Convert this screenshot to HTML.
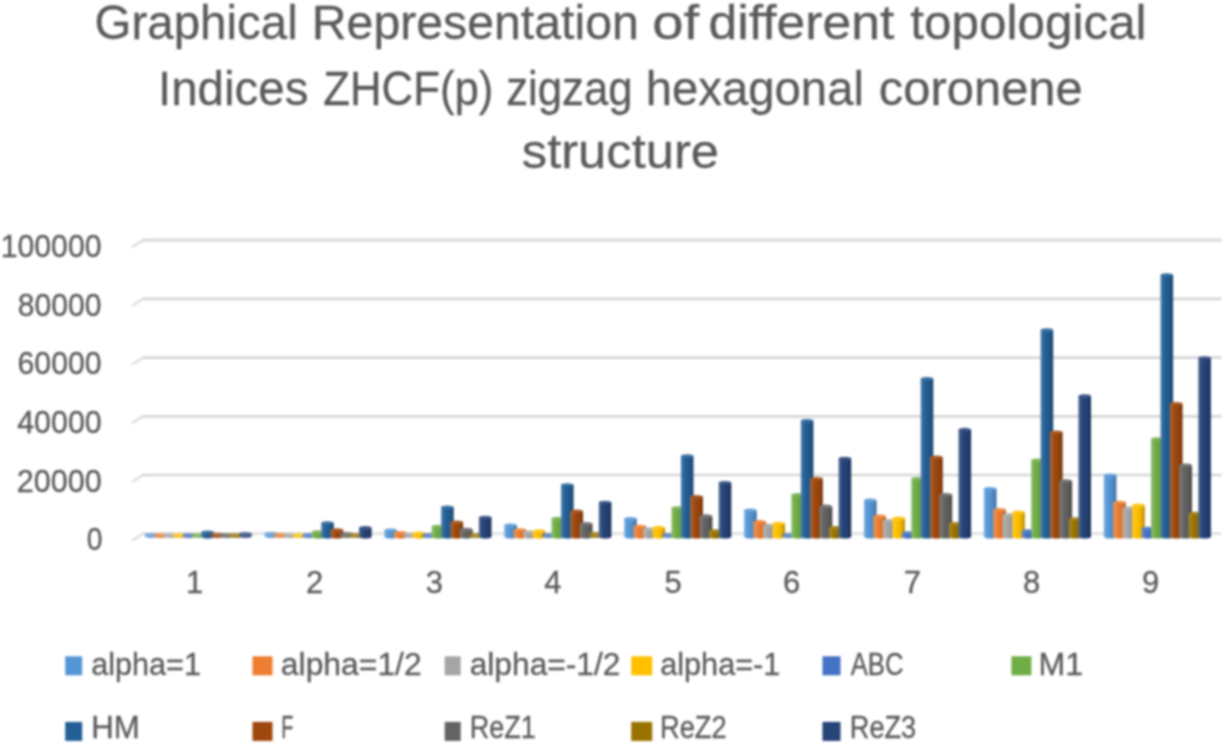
<!DOCTYPE html>
<html lang="en"><head><meta charset="utf-8"><title>Graphical Representation of different topological Indices</title>
<style>html,body{margin:0;padding:0;background:#fff;}body{width:1225px;height:746px;overflow:hidden;}svg{display:block;}text{font-family:'Liberation Sans', 'DejaVu Sans', sans-serif;fill:#5a5a5a;stroke:#5a5a5a;stroke-width:0.3px;}</style>
</head><body>
<svg width="1225" height="746" viewBox="0 0 1225 746">
<defs>
<filter id="soft" filterUnits="userSpaceOnUse" x="0" y="0" width="1225" height="746" color-interpolation-filters="sRGB"><feGaussianBlur stdDeviation="1"/></filter>
<linearGradient id="g0" x1="0" x2="1" y1="0" y2="0"><stop offset="0" stop-color="#7aaedf"/><stop offset="0.14" stop-color="#66a1da"/><stop offset="0.34" stop-color="#5597D6"/><stop offset="0.7" stop-color="#4f8cc7"/><stop offset="1" stop-color="#3b6a96"/></linearGradient>
<linearGradient id="g1" x1="0" x2="1" y1="0" y2="0"><stop offset="0" stop-color="#f19a5e"/><stop offset="0.14" stop-color="#ef8a46"/><stop offset="0.34" stop-color="#ED7D31"/><stop offset="0.7" stop-color="#dc742e"/><stop offset="1" stop-color="#a65822"/></linearGradient>
<linearGradient id="g2" x1="0" x2="1" y1="0" y2="0"><stop offset="0" stop-color="#b9b9b9"/><stop offset="0.14" stop-color="#aeaeae"/><stop offset="0.34" stop-color="#A5A5A5"/><stop offset="0.7" stop-color="#999999"/><stop offset="1" stop-color="#737373"/></linearGradient>
<linearGradient id="g3" x1="0" x2="1" y1="0" y2="0"><stop offset="0" stop-color="#ffce38"/><stop offset="0.14" stop-color="#ffc61a"/><stop offset="0.34" stop-color="#FFC000"/><stop offset="0.7" stop-color="#edb300"/><stop offset="1" stop-color="#b28600"/></linearGradient>
<linearGradient id="g4" x1="0" x2="1" y1="0" y2="0"><stop offset="0" stop-color="#6d91d1"/><stop offset="0.14" stop-color="#5780ca"/><stop offset="0.34" stop-color="#4472C4"/><stop offset="0.7" stop-color="#3f6ab6"/><stop offset="1" stop-color="#305089"/></linearGradient>
<linearGradient id="g5" x1="0" x2="1" y1="0" y2="0"><stop offset="0" stop-color="#8fbf6f"/><stop offset="0.14" stop-color="#7eb559"/><stop offset="0.34" stop-color="#70AD47"/><stop offset="0.7" stop-color="#68a142"/><stop offset="1" stop-color="#4e7932"/></linearGradient>
<linearGradient id="g6" x1="0" x2="1" y1="0" y2="0"><stop offset="0" stop-color="#5382ad"/><stop offset="0.14" stop-color="#396fa0"/><stop offset="0.34" stop-color="#235F96"/><stop offset="0.7" stop-color="#21588c"/><stop offset="1" stop-color="#184269"/></linearGradient>
<linearGradient id="g7" x1="0" x2="1" y1="0" y2="0"><stop offset="0" stop-color="#b37043"/><stop offset="0.14" stop-color="#a85a26"/><stop offset="0.34" stop-color="#9E480E"/><stop offset="0.7" stop-color="#93430d"/><stop offset="1" stop-color="#6f320a"/></linearGradient>
<linearGradient id="g8" x1="0" x2="1" y1="0" y2="0"><stop offset="0" stop-color="#858585"/><stop offset="0.14" stop-color="#737373"/><stop offset="0.34" stop-color="#636363"/><stop offset="0.7" stop-color="#5c5c5c"/><stop offset="1" stop-color="#454545"/></linearGradient>
<linearGradient id="g9" x1="0" x2="1" y1="0" y2="0"><stop offset="0" stop-color="#af9238"/><stop offset="0.14" stop-color="#a3811a"/><stop offset="0.34" stop-color="#997300"/><stop offset="0.7" stop-color="#8e6b00"/><stop offset="1" stop-color="#6b5000"/></linearGradient>
<linearGradient id="g10" x1="0" x2="1" y1="0" y2="0"><stop offset="0" stop-color="#566d96"/><stop offset="0.14" stop-color="#3c5786"/><stop offset="0.34" stop-color="#264478"/><stop offset="0.7" stop-color="#233f70"/><stop offset="1" stop-color="#1b3054"/></linearGradient>
</defs>
<rect width="1225" height="746" fill="#fff"/>
<g filter="url(#soft)">
<text x="94.51" y="38.5" font-size="48" textLength="203.27" lengthAdjust="spacingAndGlyphs" fill="#606060" stroke="none">Graphical</text>
<text x="311.74" y="38.5" font-size="48" textLength="327.09" lengthAdjust="spacingAndGlyphs" fill="#606060" stroke="none">Representation</text>
<text x="652.34" y="38.5" font-size="48" textLength="46.88" lengthAdjust="spacingAndGlyphs" fill="#606060" stroke="none">of</text>
<text x="708.53" y="38.5" font-size="48" textLength="185.95" lengthAdjust="spacingAndGlyphs" fill="#606060" stroke="none">different</text>
<text x="910.35" y="38.5" font-size="48" textLength="236.25" lengthAdjust="spacingAndGlyphs" fill="#606060" stroke="none">topological</text>
<text x="158.02" y="104.5" font-size="48" textLength="150.40" lengthAdjust="spacingAndGlyphs" fill="#606060" stroke="none">Indices</text>
<text x="323.31" y="104.5" font-size="48" textLength="170.10" lengthAdjust="spacingAndGlyphs" fill="#606060" stroke="none">ZHCF(p)</text>
<text x="506.13" y="104.5" font-size="48" textLength="126.49" lengthAdjust="spacingAndGlyphs" fill="#606060" stroke="none">zigzag</text>
<text x="645.72" y="104.5" font-size="48" textLength="218.24" lengthAdjust="spacingAndGlyphs" fill="#606060" stroke="none">hexagonal</text>
<text x="878.82" y="104.5" font-size="48" textLength="203.95" lengthAdjust="spacingAndGlyphs" fill="#606060" stroke="none">coronene</text>
<text x="521.79" y="168.0" font-size="48" textLength="197.26" lengthAdjust="spacingAndGlyphs" fill="#606060" stroke="none">structure</text>
<polyline points="132.8,246.70 143,240.20" fill="none" stroke="#dcdcdc" stroke-width="2.3" stroke-linecap="round"/>
<polyline points="142.5,240.20 1221.5,240.20" fill="none" stroke="#d6d6d6" stroke-width="2.7" stroke-linecap="butt"/>
<polyline points="132.8,305.40 143,298.90" fill="none" stroke="#dcdcdc" stroke-width="2.3" stroke-linecap="round"/>
<polyline points="142.5,298.90 1221.5,298.90" fill="none" stroke="#d6d6d6" stroke-width="2.7" stroke-linecap="butt"/>
<polyline points="132.8,364.10 143,357.60" fill="none" stroke="#dcdcdc" stroke-width="2.3" stroke-linecap="round"/>
<polyline points="142.5,357.60 1221.5,357.60" fill="none" stroke="#d6d6d6" stroke-width="2.7" stroke-linecap="butt"/>
<polyline points="132.8,422.80 143,416.30" fill="none" stroke="#dcdcdc" stroke-width="2.3" stroke-linecap="round"/>
<polyline points="142.5,416.30 1221.5,416.30" fill="none" stroke="#d6d6d6" stroke-width="2.7" stroke-linecap="butt"/>
<polyline points="132.8,481.50 143,475.00" fill="none" stroke="#dcdcdc" stroke-width="2.3" stroke-linecap="round"/>
<polyline points="142.5,475.00 1221.5,475.00" fill="none" stroke="#d6d6d6" stroke-width="2.7" stroke-linecap="butt"/>
<polyline points="132.8,540.20 143,533.70" fill="none" stroke="#dcdcdc" stroke-width="2.3" stroke-linecap="round"/>
<polyline points="142.5,533.70 1221.5,533.70" fill="none" stroke="#e2e2e2" stroke-width="2.7" stroke-linecap="butt"/>
<text x="0.70" y="256.9" font-size="31.0" textLength="100.88" lengthAdjust="spacingAndGlyphs">100000</text>
<text x="17.79" y="315.6" font-size="31.0" textLength="83.79" lengthAdjust="spacingAndGlyphs">80000</text>
<text x="17.57" y="374.3" font-size="31.0" textLength="84.01" lengthAdjust="spacingAndGlyphs">60000</text>
<text x="17.20" y="433.0" font-size="31.0" textLength="84.59" lengthAdjust="spacingAndGlyphs">40000</text>
<text x="16.86" y="491.7" font-size="31.0" textLength="84.93" lengthAdjust="spacingAndGlyphs">20000</text>
<text x="86.80" y="550.4" font-size="31.0" textLength="15.71" lengthAdjust="spacingAndGlyphs">0</text>
<g opacity="0.85">
<path d="M144.60,534.80 L144.60,536.20 A6.30,1.70 0 0 0 157.20,536.20 L157.20,534.80 Z" fill="url(#g0)"/>
<ellipse cx="150.90" cy="534.80" rx="6.30" ry="1.70" fill="#66a1da"/>
</g>
<g opacity="0.85">
<path d="M154.05,534.80 L154.05,536.20 A6.30,1.70 0 0 0 166.65,536.20 L166.65,534.80 Z" fill="url(#g1)"/>
<ellipse cx="160.35" cy="534.80" rx="6.30" ry="1.70" fill="#ef8a46"/>
</g>
<g opacity="0.85">
<path d="M163.50,534.80 L163.50,536.20 A6.30,1.70 0 0 0 176.10,536.20 L176.10,534.80 Z" fill="url(#g2)"/>
<ellipse cx="169.80" cy="534.80" rx="6.30" ry="1.70" fill="#aeaeae"/>
</g>
<g opacity="0.85">
<path d="M172.95,534.80 L172.95,536.20 A6.30,1.70 0 0 0 185.55,536.20 L185.55,534.80 Z" fill="url(#g3)"/>
<ellipse cx="179.25" cy="534.80" rx="6.30" ry="1.70" fill="#ffc61a"/>
</g>
<g opacity="0.85">
<path d="M182.40,534.80 L182.40,536.20 A6.30,1.70 0 0 0 195.00,536.20 L195.00,534.80 Z" fill="url(#g4)"/>
<ellipse cx="188.70" cy="534.80" rx="6.30" ry="1.70" fill="#5780ca"/>
</g>
<g opacity="0.85">
<path d="M191.85,534.72 L191.85,536.20 A6.30,1.70 0 0 0 204.45,536.20 L204.45,534.72 Z" fill="url(#g5)"/>
<ellipse cx="198.15" cy="534.72" rx="6.30" ry="1.70" fill="#7eb559"/>
</g>
<g opacity="1.00">
<path d="M201.30,532.20 L201.30,536.70 A6.30,1.80 0 0 0 213.90,536.70 L213.90,532.20 Z" fill="url(#g6)"/>
<ellipse cx="207.60" cy="532.20" rx="6.30" ry="1.80" fill="#396fa0"/>
</g>
<g opacity="0.85">
<path d="M210.75,534.12 L210.75,536.20 A6.30,1.70 0 0 0 223.35,536.20 L223.35,534.12 Z" fill="url(#g7)"/>
<ellipse cx="217.05" cy="534.12" rx="6.30" ry="1.70" fill="#a85a26"/>
</g>
<g opacity="0.85">
<path d="M220.20,534.80 L220.20,536.20 A6.30,1.70 0 0 0 232.80,536.20 L232.80,534.80 Z" fill="url(#g8)"/>
<ellipse cx="226.50" cy="534.80" rx="6.30" ry="1.70" fill="#737373"/>
</g>
<g opacity="0.85">
<path d="M229.65,534.80 L229.65,536.20 A6.30,1.70 0 0 0 242.25,536.20 L242.25,534.80 Z" fill="url(#g9)"/>
<ellipse cx="235.95" cy="534.80" rx="6.30" ry="1.70" fill="#a3811a"/>
</g>
<g opacity="0.85">
<path d="M239.10,533.66 L239.10,536.20 A6.30,1.70 0 0 0 251.70,536.20 L251.70,533.66 Z" fill="url(#g10)"/>
<ellipse cx="245.40" cy="533.66" rx="6.30" ry="1.70" fill="#3c5786"/>
</g>
<g opacity="0.85">
<path d="M264.50,533.45 L264.50,536.20 A6.30,1.70 0 0 0 277.10,536.20 L277.10,533.45 Z" fill="url(#g0)"/>
<ellipse cx="270.80" cy="533.45" rx="6.30" ry="1.70" fill="#66a1da"/>
</g>
<g opacity="0.85">
<path d="M273.95,534.37 L273.95,536.20 A6.30,1.70 0 0 0 286.55,536.20 L286.55,534.37 Z" fill="url(#g1)"/>
<ellipse cx="280.25" cy="534.37" rx="6.30" ry="1.70" fill="#ef8a46"/>
</g>
<g opacity="0.85">
<path d="M283.40,534.80 L283.40,536.20 A6.30,1.70 0 0 0 296.00,536.20 L296.00,534.80 Z" fill="url(#g2)"/>
<ellipse cx="289.70" cy="534.80" rx="6.30" ry="1.70" fill="#aeaeae"/>
</g>
<g opacity="0.85">
<path d="M292.85,534.72 L292.85,536.20 A6.30,1.70 0 0 0 305.45,536.20 L305.45,534.72 Z" fill="url(#g3)"/>
<ellipse cx="299.15" cy="534.72" rx="6.30" ry="1.70" fill="#ffc61a"/>
</g>
<g opacity="0.85">
<path d="M302.30,534.80 L302.30,536.20 A6.30,1.70 0 0 0 314.90,536.20 L314.90,534.80 Z" fill="url(#g4)"/>
<ellipse cx="308.60" cy="534.80" rx="6.30" ry="1.70" fill="#5780ca"/>
</g>
<g opacity="1.00">
<path d="M311.75,532.00 L311.75,536.70 A6.30,1.80 0 0 0 324.35,536.70 L324.35,532.00 Z" fill="url(#g5)"/>
<ellipse cx="318.05" cy="532.00" rx="6.30" ry="1.80" fill="#7eb559"/>
</g>
<g opacity="1.00">
<path d="M321.20,523.03 L321.20,536.70 A6.30,1.80 0 0 0 333.80,536.70 L333.80,523.03 Z" fill="url(#g6)"/>
<ellipse cx="327.50" cy="523.03" rx="6.30" ry="1.80" fill="#396fa0"/>
</g>
<g opacity="1.00">
<path d="M330.65,529.98 L330.65,536.70 A6.30,1.80 0 0 0 343.25,536.70 L343.25,529.98 Z" fill="url(#g7)"/>
<ellipse cx="336.95" cy="529.98" rx="6.30" ry="1.80" fill="#a85a26"/>
</g>
<g opacity="0.85">
<path d="M340.10,533.34 L340.10,536.20 A6.30,1.70 0 0 0 352.70,536.20 L352.70,533.34 Z" fill="url(#g8)"/>
<ellipse cx="346.40" cy="533.34" rx="6.30" ry="1.70" fill="#737373"/>
</g>
<g opacity="0.85">
<path d="M349.55,534.80 L349.55,536.20 A6.30,1.70 0 0 0 362.15,536.20 L362.15,534.80 Z" fill="url(#g9)"/>
<ellipse cx="355.85" cy="534.80" rx="6.30" ry="1.70" fill="#a3811a"/>
</g>
<g opacity="1.00">
<path d="M359.00,527.89 L359.00,536.70 A6.30,1.80 0 0 0 371.60,536.70 L371.60,527.89 Z" fill="url(#g10)"/>
<ellipse cx="365.30" cy="527.89" rx="6.30" ry="1.80" fill="#3c5786"/>
</g>
<g opacity="1.00">
<path d="M384.40,530.23 L384.40,536.70 A6.30,1.80 0 0 0 397.00,536.70 L397.00,530.23 Z" fill="url(#g0)"/>
<ellipse cx="390.70" cy="530.23" rx="6.30" ry="1.80" fill="#66a1da"/>
</g>
<g opacity="1.00">
<path d="M393.85,532.70 L393.85,536.70 A6.30,1.80 0 0 0 406.45,536.70 L406.45,532.70 Z" fill="url(#g1)"/>
<ellipse cx="400.15" cy="532.70" rx="6.30" ry="1.80" fill="#ef8a46"/>
</g>
<g opacity="0.85">
<path d="M403.30,534.28 L403.30,536.20 A6.30,1.70 0 0 0 415.90,536.20 L415.90,534.28 Z" fill="url(#g2)"/>
<ellipse cx="409.60" cy="534.28" rx="6.30" ry="1.70" fill="#aeaeae"/>
</g>
<g opacity="1.00">
<path d="M412.75,533.29 L412.75,536.70 A6.30,1.80 0 0 0 425.35,536.70 L425.35,533.29 Z" fill="url(#g3)"/>
<ellipse cx="419.05" cy="533.29" rx="6.30" ry="1.80" fill="#ffc61a"/>
</g>
<g opacity="0.85">
<path d="M422.20,534.80 L422.20,536.20 A6.30,1.70 0 0 0 434.80,536.20 L434.80,534.80 Z" fill="url(#g4)"/>
<ellipse cx="428.50" cy="534.80" rx="6.30" ry="1.70" fill="#5780ca"/>
</g>
<g opacity="1.00">
<path d="M431.65,526.64 L431.65,536.70 A6.30,1.80 0 0 0 444.25,536.70 L444.25,526.64 Z" fill="url(#g5)"/>
<ellipse cx="437.95" cy="526.64" rx="6.30" ry="1.80" fill="#7eb559"/>
</g>
<g opacity="1.00">
<path d="M441.10,507.29 L441.10,536.70 A6.30,1.80 0 0 0 453.70,536.70 L453.70,507.29 Z" fill="url(#g6)"/>
<ellipse cx="447.40" cy="507.29" rx="6.30" ry="1.80" fill="#396fa0"/>
</g>
<g opacity="1.00">
<path d="M450.55,522.37 L450.55,536.70 A6.30,1.80 0 0 0 463.15,536.70 L463.15,522.37 Z" fill="url(#g7)"/>
<ellipse cx="456.85" cy="522.37" rx="6.30" ry="1.80" fill="#a85a26"/>
</g>
<g opacity="1.00">
<path d="M460.00,529.61 L460.00,536.70 A6.30,1.80 0 0 0 472.60,536.70 L472.60,529.61 Z" fill="url(#g8)"/>
<ellipse cx="466.30" cy="529.61" rx="6.30" ry="1.80" fill="#737373"/>
</g>
<g opacity="0.85">
<path d="M469.45,534.80 L469.45,536.20 A6.30,1.70 0 0 0 482.05,536.20 L482.05,534.80 Z" fill="url(#g9)"/>
<ellipse cx="475.75" cy="534.80" rx="6.30" ry="1.70" fill="#a3811a"/>
</g>
<g opacity="1.00">
<path d="M478.90,517.49 L478.90,536.70 A6.30,1.80 0 0 0 491.50,536.70 L491.50,517.49 Z" fill="url(#g10)"/>
<ellipse cx="485.20" cy="517.49" rx="6.30" ry="1.80" fill="#3c5786"/>
</g>
<g opacity="1.00">
<path d="M504.30,525.31 L504.30,536.70 A6.30,1.80 0 0 0 516.90,536.70 L516.90,525.31 Z" fill="url(#g0)"/>
<ellipse cx="510.60" cy="525.31" rx="6.30" ry="1.80" fill="#66a1da"/>
</g>
<g opacity="1.00">
<path d="M513.75,530.07 L513.75,536.70 A6.30,1.80 0 0 0 526.35,536.70 L526.35,530.07 Z" fill="url(#g1)"/>
<ellipse cx="520.05" cy="530.07" rx="6.30" ry="1.80" fill="#ef8a46"/>
</g>
<g opacity="1.00">
<path d="M523.20,532.26 L523.20,536.70 A6.30,1.80 0 0 0 535.80,536.70 L535.80,532.26 Z" fill="url(#g2)"/>
<ellipse cx="529.50" cy="532.26" rx="6.30" ry="1.80" fill="#aeaeae"/>
</g>
<g opacity="1.00">
<path d="M532.65,530.94 L532.65,536.70 A6.30,1.80 0 0 0 545.25,536.70 L545.25,530.94 Z" fill="url(#g3)"/>
<ellipse cx="538.95" cy="530.94" rx="6.30" ry="1.80" fill="#ffc61a"/>
</g>
<g opacity="0.85">
<path d="M542.10,534.80 L542.10,536.20 A6.30,1.70 0 0 0 554.70,536.20 L554.70,534.80 Z" fill="url(#g4)"/>
<ellipse cx="548.40" cy="534.80" rx="6.30" ry="1.70" fill="#5780ca"/>
</g>
<g opacity="1.00">
<path d="M551.55,518.64 L551.55,536.70 A6.30,1.80 0 0 0 564.15,536.70 L564.15,518.64 Z" fill="url(#g5)"/>
<ellipse cx="557.85" cy="518.64" rx="6.30" ry="1.80" fill="#7eb559"/>
</g>
<g opacity="1.00">
<path d="M561.00,484.99 L561.00,536.70 A6.30,1.80 0 0 0 573.60,536.70 L573.60,484.99 Z" fill="url(#g6)"/>
<ellipse cx="567.30" cy="484.99" rx="6.30" ry="1.80" fill="#396fa0"/>
</g>
<g opacity="1.00">
<path d="M570.45,511.28 L570.45,536.70 A6.30,1.80 0 0 0 583.05,536.70 L583.05,511.28 Z" fill="url(#g7)"/>
<ellipse cx="576.75" cy="511.28" rx="6.30" ry="1.80" fill="#a85a26"/>
</g>
<g opacity="1.00">
<path d="M579.90,523.88 L579.90,536.70 A6.30,1.80 0 0 0 592.50,536.70 L592.50,523.88 Z" fill="url(#g8)"/>
<ellipse cx="586.20" cy="523.88" rx="6.30" ry="1.80" fill="#737373"/>
</g>
<g opacity="0.85">
<path d="M589.35,533.43 L589.35,536.20 A6.30,1.70 0 0 0 601.95,536.20 L601.95,533.43 Z" fill="url(#g9)"/>
<ellipse cx="595.65" cy="533.43" rx="6.30" ry="1.70" fill="#a3811a"/>
</g>
<g opacity="1.00">
<path d="M598.80,502.47 L598.80,536.70 A6.30,1.80 0 0 0 611.40,536.70 L611.40,502.47 Z" fill="url(#g10)"/>
<ellipse cx="605.10" cy="502.47" rx="6.30" ry="1.80" fill="#3c5786"/>
</g>
<g opacity="1.00">
<path d="M624.20,518.70 L624.20,536.70 A6.30,1.80 0 0 0 636.80,536.70 L636.80,518.70 Z" fill="url(#g0)"/>
<ellipse cx="630.50" cy="518.70" rx="6.30" ry="1.80" fill="#66a1da"/>
</g>
<g opacity="1.00">
<path d="M633.65,526.47 L633.65,536.70 A6.30,1.80 0 0 0 646.25,536.70 L646.25,526.47 Z" fill="url(#g1)"/>
<ellipse cx="639.95" cy="526.47" rx="6.30" ry="1.80" fill="#ef8a46"/>
</g>
<g opacity="1.00">
<path d="M643.10,529.32 L643.10,536.70 A6.30,1.80 0 0 0 655.70,536.70 L655.70,529.32 Z" fill="url(#g2)"/>
<ellipse cx="649.40" cy="529.32" rx="6.30" ry="1.80" fill="#aeaeae"/>
</g>
<g opacity="1.00">
<path d="M652.55,527.67 L652.55,536.70 A6.30,1.80 0 0 0 665.15,536.70 L665.15,527.67 Z" fill="url(#g3)"/>
<ellipse cx="658.85" cy="527.67" rx="6.30" ry="1.80" fill="#ffc61a"/>
</g>
<g opacity="0.85">
<path d="M662.00,534.80 L662.00,536.20 A6.30,1.70 0 0 0 674.60,536.20 L674.60,534.80 Z" fill="url(#g4)"/>
<ellipse cx="668.30" cy="534.80" rx="6.30" ry="1.70" fill="#5780ca"/>
</g>
<g opacity="1.00">
<path d="M671.45,508.00 L671.45,536.70 A6.30,1.80 0 0 0 684.05,536.70 L684.05,508.00 Z" fill="url(#g5)"/>
<ellipse cx="677.75" cy="508.00" rx="6.30" ry="1.80" fill="#7eb559"/>
</g>
<g opacity="1.00">
<path d="M680.90,456.13 L680.90,536.70 A6.30,1.80 0 0 0 693.50,536.70 L693.50,456.13 Z" fill="url(#g6)"/>
<ellipse cx="687.20" cy="456.13" rx="6.30" ry="1.80" fill="#396fa0"/>
</g>
<g opacity="1.00">
<path d="M690.35,496.73 L690.35,536.70 A6.30,1.80 0 0 0 702.95,536.70 L702.95,496.73 Z" fill="url(#g7)"/>
<ellipse cx="696.65" cy="496.73" rx="6.30" ry="1.80" fill="#a85a26"/>
</g>
<g opacity="1.00">
<path d="M699.80,516.15 L699.80,536.70 A6.30,1.80 0 0 0 712.40,536.70 L712.40,516.15 Z" fill="url(#g8)"/>
<ellipse cx="706.10" cy="516.15" rx="6.30" ry="1.80" fill="#737373"/>
</g>
<g opacity="1.00">
<path d="M709.25,531.06 L709.25,536.70 A6.30,1.80 0 0 0 721.85,536.70 L721.85,531.06 Z" fill="url(#g9)"/>
<ellipse cx="715.55" cy="531.06" rx="6.30" ry="1.80" fill="#a3811a"/>
</g>
<g opacity="1.00">
<path d="M718.70,482.82 L718.70,536.70 A6.30,1.80 0 0 0 731.30,536.70 L731.30,482.82 Z" fill="url(#g10)"/>
<ellipse cx="725.00" cy="482.82" rx="6.30" ry="1.80" fill="#3c5786"/>
</g>
<g opacity="1.00">
<path d="M744.10,510.39 L744.10,536.70 A6.30,1.80 0 0 0 756.70,536.70 L756.70,510.39 Z" fill="url(#g0)"/>
<ellipse cx="750.40" cy="510.39" rx="6.30" ry="1.80" fill="#66a1da"/>
</g>
<g opacity="1.00">
<path d="M753.55,521.91 L753.55,536.70 A6.30,1.80 0 0 0 766.15,536.70 L766.15,521.91 Z" fill="url(#g1)"/>
<ellipse cx="759.85" cy="521.91" rx="6.30" ry="1.80" fill="#ef8a46"/>
</g>
<g opacity="1.00">
<path d="M763.00,525.46 L763.00,536.70 A6.30,1.80 0 0 0 775.60,536.70 L775.60,525.46 Z" fill="url(#g2)"/>
<ellipse cx="769.30" cy="525.46" rx="6.30" ry="1.80" fill="#aeaeae"/>
</g>
<g opacity="1.00">
<path d="M772.45,523.48 L772.45,536.70 A6.30,1.80 0 0 0 785.05,536.70 L785.05,523.48 Z" fill="url(#g3)"/>
<ellipse cx="778.75" cy="523.48" rx="6.30" ry="1.80" fill="#ffc61a"/>
</g>
<g opacity="0.85">
<path d="M781.90,534.61 L781.90,536.20 A6.30,1.70 0 0 0 794.50,536.20 L794.50,534.61 Z" fill="url(#g4)"/>
<ellipse cx="788.20" cy="534.61" rx="6.30" ry="1.70" fill="#5780ca"/>
</g>
<g opacity="1.00">
<path d="M791.35,494.72 L791.35,536.70 A6.30,1.80 0 0 0 803.95,536.70 L803.95,494.72 Z" fill="url(#g5)"/>
<ellipse cx="797.65" cy="494.72" rx="6.30" ry="1.80" fill="#7eb559"/>
</g>
<g opacity="1.00">
<path d="M800.80,420.69 L800.80,536.70 A6.30,1.80 0 0 0 813.40,536.70 L813.40,420.69 Z" fill="url(#g6)"/>
<ellipse cx="807.10" cy="420.69" rx="6.30" ry="1.80" fill="#396fa0"/>
</g>
<g opacity="1.00">
<path d="M810.25,478.70 L810.25,536.70 A6.30,1.80 0 0 0 822.85,536.70 L822.85,478.70 Z" fill="url(#g7)"/>
<ellipse cx="816.55" cy="478.70" rx="6.30" ry="1.80" fill="#a85a26"/>
</g>
<g opacity="1.00">
<path d="M819.70,506.42 L819.70,536.70 A6.30,1.80 0 0 0 832.30,536.70 L832.30,506.42 Z" fill="url(#g8)"/>
<ellipse cx="826.00" cy="506.42" rx="6.30" ry="1.80" fill="#737373"/>
</g>
<g opacity="1.00">
<path d="M829.15,527.88 L829.15,536.70 A6.30,1.80 0 0 0 841.75,536.70 L841.75,527.88 Z" fill="url(#g9)"/>
<ellipse cx="835.45" cy="527.88" rx="6.30" ry="1.80" fill="#a3811a"/>
</g>
<g opacity="1.00">
<path d="M838.60,458.55 L838.60,536.70 A6.30,1.80 0 0 0 851.20,536.70 L851.20,458.55 Z" fill="url(#g10)"/>
<ellipse cx="844.90" cy="458.55" rx="6.30" ry="1.80" fill="#3c5786"/>
</g>
<g opacity="1.00">
<path d="M864.00,500.39 L864.00,536.70 A6.30,1.80 0 0 0 876.60,536.70 L876.60,500.39 Z" fill="url(#g0)"/>
<ellipse cx="870.30" cy="500.39" rx="6.30" ry="1.80" fill="#66a1da"/>
</g>
<g opacity="1.00">
<path d="M873.45,516.38 L873.45,536.70 A6.30,1.80 0 0 0 886.05,536.70 L886.05,516.38 Z" fill="url(#g1)"/>
<ellipse cx="879.75" cy="516.38" rx="6.30" ry="1.80" fill="#ef8a46"/>
</g>
<g opacity="1.00">
<path d="M882.90,520.68 L882.90,536.70 A6.30,1.80 0 0 0 895.50,536.70 L895.50,520.68 Z" fill="url(#g2)"/>
<ellipse cx="889.20" cy="520.68" rx="6.30" ry="1.80" fill="#aeaeae"/>
</g>
<g opacity="1.00">
<path d="M892.35,518.37 L892.35,536.70 A6.30,1.80 0 0 0 904.95,536.70 L904.95,518.37 Z" fill="url(#g3)"/>
<ellipse cx="898.65" cy="518.37" rx="6.30" ry="1.80" fill="#ffc61a"/>
</g>
<g opacity="1.00">
<path d="M901.80,533.05 L901.80,536.70 A6.30,1.80 0 0 0 914.40,536.70 L914.40,533.05 Z" fill="url(#g4)"/>
<ellipse cx="908.10" cy="533.05" rx="6.30" ry="1.80" fill="#5780ca"/>
</g>
<g opacity="1.00">
<path d="M911.25,478.80 L911.25,536.70 A6.30,1.80 0 0 0 923.85,536.70 L923.85,478.80 Z" fill="url(#g5)"/>
<ellipse cx="917.55" cy="478.80" rx="6.30" ry="1.80" fill="#7eb559"/>
</g>
<g opacity="1.00">
<path d="M920.70,378.69 L920.70,536.70 A6.30,1.80 0 0 0 933.30,536.70 L933.30,378.69 Z" fill="url(#g6)"/>
<ellipse cx="927.00" cy="378.69" rx="6.30" ry="1.80" fill="#396fa0"/>
</g>
<g opacity="1.00">
<path d="M930.15,457.20 L930.15,536.70 A6.30,1.80 0 0 0 942.75,536.70 L942.75,457.20 Z" fill="url(#g7)"/>
<ellipse cx="936.45" cy="457.20" rx="6.30" ry="1.80" fill="#a85a26"/>
</g>
<g opacity="1.00">
<path d="M939.60,494.69 L939.60,536.70 A6.30,1.80 0 0 0 952.20,536.70 L952.20,494.69 Z" fill="url(#g8)"/>
<ellipse cx="945.90" cy="494.69" rx="6.30" ry="1.80" fill="#737373"/>
</g>
<g opacity="1.00">
<path d="M949.05,523.89 L949.05,536.70 A6.30,1.80 0 0 0 961.65,536.70 L961.65,523.89 Z" fill="url(#g9)"/>
<ellipse cx="955.35" cy="523.89" rx="6.30" ry="1.80" fill="#a3811a"/>
</g>
<g opacity="1.00">
<path d="M958.50,429.65 L958.50,536.70 A6.30,1.80 0 0 0 971.10,536.70 L971.10,429.65 Z" fill="url(#g10)"/>
<ellipse cx="964.80" cy="429.65" rx="6.30" ry="1.80" fill="#3c5786"/>
</g>
<g opacity="1.00">
<path d="M983.90,488.69 L983.90,536.70 A6.30,1.80 0 0 0 996.50,536.70 L996.50,488.69 Z" fill="url(#g0)"/>
<ellipse cx="990.20" cy="488.69" rx="6.30" ry="1.80" fill="#66a1da"/>
</g>
<g opacity="1.00">
<path d="M993.35,509.89 L993.35,536.70 A6.30,1.80 0 0 0 1005.95,536.70 L1005.95,509.89 Z" fill="url(#g1)"/>
<ellipse cx="999.65" cy="509.89" rx="6.30" ry="1.80" fill="#ef8a46"/>
</g>
<g opacity="1.00">
<path d="M1002.80,514.98 L1002.80,536.70 A6.30,1.80 0 0 0 1015.40,536.70 L1015.40,514.98 Z" fill="url(#g2)"/>
<ellipse cx="1009.10" cy="514.98" rx="6.30" ry="1.80" fill="#aeaeae"/>
</g>
<g opacity="1.00">
<path d="M1012.25,512.34 L1012.25,536.70 A6.30,1.80 0 0 0 1024.85,536.70 L1024.85,512.34 Z" fill="url(#g3)"/>
<ellipse cx="1018.55" cy="512.34" rx="6.30" ry="1.80" fill="#ffc61a"/>
</g>
<g opacity="1.00">
<path d="M1021.70,531.06 L1021.70,536.70 A6.30,1.80 0 0 0 1034.30,536.70 L1034.30,531.06 Z" fill="url(#g4)"/>
<ellipse cx="1028.00" cy="531.06" rx="6.30" ry="1.80" fill="#5780ca"/>
</g>
<g opacity="1.00">
<path d="M1031.15,460.24 L1031.15,536.70 A6.30,1.80 0 0 0 1043.75,536.70 L1043.75,460.24 Z" fill="url(#g5)"/>
<ellipse cx="1037.45" cy="460.24" rx="6.30" ry="1.80" fill="#7eb559"/>
</g>
<g opacity="1.00">
<path d="M1040.60,330.13 L1040.60,536.70 A6.30,1.80 0 0 0 1053.20,536.70 L1053.20,330.13 Z" fill="url(#g6)"/>
<ellipse cx="1046.90" cy="330.13" rx="6.30" ry="1.80" fill="#396fa0"/>
</g>
<g opacity="1.00">
<path d="M1050.05,432.24 L1050.05,536.70 A6.30,1.80 0 0 0 1062.65,536.70 L1062.65,432.24 Z" fill="url(#g7)"/>
<ellipse cx="1056.35" cy="432.24" rx="6.30" ry="1.80" fill="#a85a26"/>
</g>
<g opacity="1.00">
<path d="M1059.50,480.96 L1059.50,536.70 A6.30,1.80 0 0 0 1072.10,536.70 L1072.10,480.96 Z" fill="url(#g8)"/>
<ellipse cx="1065.80" cy="480.96" rx="6.30" ry="1.80" fill="#737373"/>
</g>
<g opacity="1.00">
<path d="M1068.95,519.08 L1068.95,536.70 A6.30,1.80 0 0 0 1081.55,536.70 L1081.55,519.08 Z" fill="url(#g9)"/>
<ellipse cx="1075.25" cy="519.08" rx="6.30" ry="1.80" fill="#a3811a"/>
</g>
<g opacity="1.00">
<path d="M1078.40,396.13 L1078.40,536.70 A6.30,1.80 0 0 0 1091.00,536.70 L1091.00,396.13 Z" fill="url(#g10)"/>
<ellipse cx="1084.70" cy="396.13" rx="6.30" ry="1.80" fill="#3c5786"/>
</g>
<g opacity="1.00">
<path d="M1103.80,475.29 L1103.80,536.70 A6.30,1.80 0 0 0 1116.40,536.70 L1116.40,475.29 Z" fill="url(#g0)"/>
<ellipse cx="1110.10" cy="475.29" rx="6.30" ry="1.80" fill="#66a1da"/>
</g>
<g opacity="1.00">
<path d="M1113.25,502.43 L1113.25,536.70 A6.30,1.80 0 0 0 1125.85,536.70 L1125.85,502.43 Z" fill="url(#g1)"/>
<ellipse cx="1119.55" cy="502.43" rx="6.30" ry="1.80" fill="#ef8a46"/>
</g>
<g opacity="1.00">
<path d="M1122.70,508.35 L1122.70,536.70 A6.30,1.80 0 0 0 1135.30,536.70 L1135.30,508.35 Z" fill="url(#g2)"/>
<ellipse cx="1129.00" cy="508.35" rx="6.30" ry="1.80" fill="#aeaeae"/>
</g>
<g opacity="1.00">
<path d="M1132.15,505.38 L1132.15,536.70 A6.30,1.80 0 0 0 1144.75,536.70 L1144.75,505.38 Z" fill="url(#g3)"/>
<ellipse cx="1138.45" cy="505.38" rx="6.30" ry="1.80" fill="#ffc61a"/>
</g>
<g opacity="1.00">
<path d="M1141.60,528.62 L1141.60,536.70 A6.30,1.80 0 0 0 1154.20,536.70 L1154.20,528.62 Z" fill="url(#g4)"/>
<ellipse cx="1147.90" cy="528.62" rx="6.30" ry="1.80" fill="#5780ca"/>
</g>
<g opacity="1.00">
<path d="M1151.05,439.04 L1151.05,536.70 A6.30,1.80 0 0 0 1163.65,536.70 L1163.65,439.04 Z" fill="url(#g5)"/>
<ellipse cx="1157.35" cy="439.04" rx="6.30" ry="1.80" fill="#7eb559"/>
</g>
<g opacity="1.00">
<path d="M1160.50,275.00 L1160.50,536.70 A6.30,1.80 0 0 0 1173.10,536.70 L1173.10,275.00 Z" fill="url(#g6)"/>
<ellipse cx="1166.80" cy="275.00" rx="6.30" ry="1.80" fill="#396fa0"/>
</g>
<g opacity="1.00">
<path d="M1169.95,403.81 L1169.95,536.70 A6.30,1.80 0 0 0 1182.55,536.70 L1182.55,403.81 Z" fill="url(#g7)"/>
<ellipse cx="1176.25" cy="403.81" rx="6.30" ry="1.80" fill="#a85a26"/>
</g>
<g opacity="1.00">
<path d="M1179.40,465.23 L1179.40,536.70 A6.30,1.80 0 0 0 1192.00,536.70 L1192.00,465.23 Z" fill="url(#g8)"/>
<ellipse cx="1185.70" cy="465.23" rx="6.30" ry="1.80" fill="#737373"/>
</g>
<g opacity="1.00">
<path d="M1188.85,513.47 L1188.85,536.70 A6.30,1.80 0 0 0 1201.45,536.70 L1201.45,513.47 Z" fill="url(#g9)"/>
<ellipse cx="1195.15" cy="513.47" rx="6.30" ry="1.80" fill="#a3811a"/>
</g>
<g opacity="1.00">
<path d="M1198.30,357.98 L1198.30,536.70 A6.30,1.80 0 0 0 1210.90,536.70 L1210.90,357.98 Z" fill="url(#g10)"/>
<ellipse cx="1204.60" cy="357.98" rx="6.30" ry="1.80" fill="#3c5786"/>
</g>
<text x="194.7" y="593.0" font-size="31.0" text-anchor="middle">1</text>
<text x="314.7" y="593.0" font-size="31.0" text-anchor="middle">2</text>
<text x="434.3" y="593.0" font-size="31.0" text-anchor="middle">3</text>
<text x="552.9" y="593.0" font-size="31.0" text-anchor="middle">4</text>
<text x="673.0" y="593.0" font-size="31.0" text-anchor="middle">5</text>
<text x="791.7" y="593.0" font-size="31.0" text-anchor="middle">6</text>
<text x="912.3" y="593.0" font-size="31.0" text-anchor="middle">7</text>
<text x="1031.7" y="593.0" font-size="31.0" text-anchor="middle">8</text>
<text x="1150.5" y="593.0" font-size="31.0" text-anchor="middle">9</text>
<rect x="65.2" y="656.3" width="17.0" height="19.0" fill="#5597D6"/>
<text x="91.30" y="675.0" font-size="31.0" textLength="109.69" lengthAdjust="spacingAndGlyphs">alpha=1</text>
<rect x="252.5" y="656.3" width="20.0" height="19.0" fill="#ED7D31"/>
<text x="280.85" y="675.0" font-size="31.0" textLength="140.86" lengthAdjust="spacingAndGlyphs">alpha=1/2</text>
<rect x="444.7" y="656.3" width="16.0" height="19.0" fill="#A5A5A5"/>
<text x="469.65" y="675.0" font-size="31.0" textLength="150.84" lengthAdjust="spacingAndGlyphs">alpha=-1/2</text>
<rect x="631.2" y="656.3" width="21.0" height="19.0" fill="#FFC000"/>
<text x="660.20" y="675.0" font-size="31.0" textLength="120.20" lengthAdjust="spacingAndGlyphs">alpha=-1</text>
<rect x="822.5" y="656.3" width="18.0" height="19.0" fill="#4472C4"/>
<text x="850.75" y="675.0" font-size="31.0" textLength="52.73" lengthAdjust="spacingAndGlyphs">ABC</text>
<rect x="1011.4" y="656.3" width="20.0" height="19.0" fill="#70AD47"/>
<text x="1038.57" y="675.0" font-size="31.0" textLength="44.60" lengthAdjust="spacingAndGlyphs">M1</text>
<rect x="65.2" y="721.9" width="17.0" height="19.0" fill="#235F96"/>
<text x="91.34" y="738.0" font-size="31.0" textLength="48.52" lengthAdjust="spacingAndGlyphs">HM</text>
<rect x="252.5" y="721.9" width="20.0" height="19.0" fill="#9E480E"/>
<text x="281.37" y="738.0" font-size="31.0" textLength="12.12" lengthAdjust="spacingAndGlyphs">F</text>
<rect x="444.7" y="721.9" width="16.0" height="19.0" fill="#636363"/>
<text x="469.78" y="738.0" font-size="31.0" textLength="66.03" lengthAdjust="spacingAndGlyphs">ReZ1</text>
<rect x="631.2" y="721.9" width="21.0" height="19.0" fill="#997300"/>
<text x="659.97" y="738.0" font-size="31.0" textLength="66.60" lengthAdjust="spacingAndGlyphs">ReZ2</text>
<rect x="822.5" y="721.9" width="18.0" height="19.0" fill="#264478"/>
<text x="849.77" y="738.0" font-size="31.0" textLength="66.42" lengthAdjust="spacingAndGlyphs">ReZ3</text>
</g>
</svg></body></html>
